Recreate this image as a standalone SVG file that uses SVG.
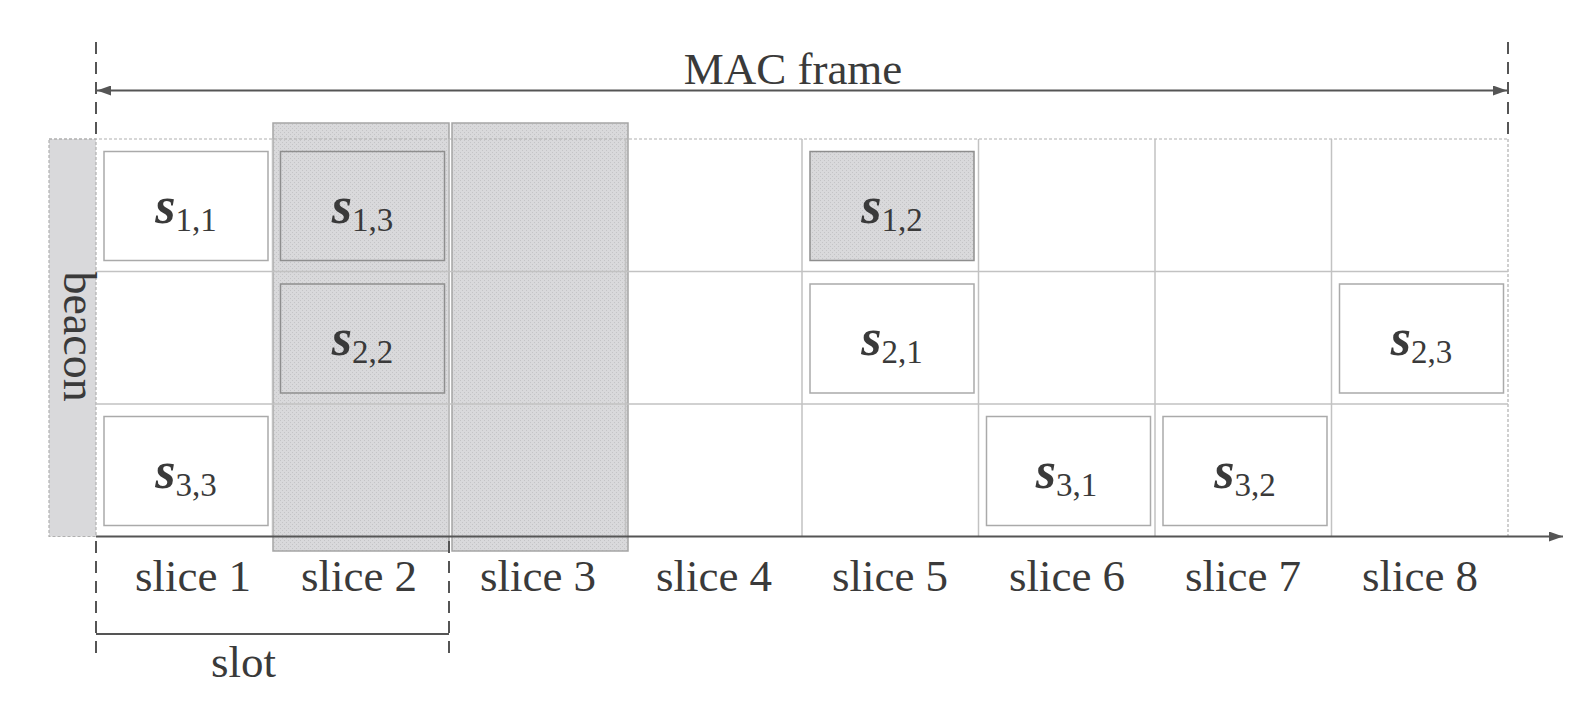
<svg xmlns="http://www.w3.org/2000/svg" width="1576" height="702" viewBox="0 0 1576 702">
<defs>
  <pattern id="stipple" width="4" height="4" patternUnits="userSpaceOnUse">
    <rect width="4" height="4" fill="#d9d9db"/>
    <rect x="0" y="0" width="1" height="1" fill="#c4c4c6"/>
    <rect x="2" y="2" width="1" height="1" fill="#c4c4c6"/>
  </pattern>
  <marker id="arr" viewBox="0 0 14 10" refX="14" refY="5" markerWidth="14" markerHeight="10" markerUnits="userSpaceOnUse" orient="auto-start-reverse">
    <path d="M0,0 L14,5 L0,10 Z" fill="#555"/>
  </marker>
  <style>
    .txt{font-family:"Liberation Serif","Times New Roman",serif;fill:#3a3a3a}
    .lbl{font-size:45px}
    .sv{font-size:52px;font-weight:bold;font-style:italic}
    .sub{font-size:33px}
    .grid{stroke:#c2c2c2;stroke-width:1.5;fill:none}
    .fine{stroke:#b0b0b0;stroke-width:1.2;stroke-dasharray:3 2;fill:none}
    .dash{stroke:#555;stroke-width:2;stroke-dasharray:12 8;fill:none}
    .box{fill:#fff;stroke:#aaa;stroke-width:1.5}
    .boxs{fill:url(#stipple);stroke:#8e8e8e;stroke-width:1.5}
    .shade{fill:url(#stipple);stroke:#a5a5a5;stroke-width:1.5}
  </style>
</defs>
<rect width="1576" height="702" fill="#fff"/>

<!-- beacon -->
<g id="beacon">
  <rect x="49" y="139" width="47" height="397.5" fill="#d9d9db" stroke="#b0b0b0" stroke-width="1.2" stroke-dasharray="3 2"/>
  <text class="txt" font-size="46" transform="translate(64,336.5) rotate(90)" text-anchor="middle">beacon</text>
</g>

<!-- shaded slot slices -->
<g id="shaded-slices">
  <rect class="shade" x="273" y="123" width="176" height="428"/>
  <rect class="shade" x="452" y="123" width="176" height="428"/>
</g>

<!-- grid -->
<g id="grid">
  <line class="fine" x1="49" y1="139" x2="1508" y2="139"/>
  <line class="fine" x1="1508" y1="139" x2="1508" y2="536.5"/>
  <line class="grid" x1="96" y1="271.5" x2="1508" y2="271.5"/>
  <line class="grid" x1="96" y1="404" x2="1508" y2="404"/>
  <line class="grid" x1="272.5" y1="139" x2="272.5" y2="536.5"/>
  <line class="grid" x1="449" y1="139" x2="449" y2="536.5" stroke="#999"/>
  <line class="grid" x1="625.5" y1="139" x2="625.5" y2="536.5"/>
  <line class="grid" x1="802" y1="139" x2="802" y2="536.5"/>
  <line class="grid" x1="978.5" y1="139" x2="978.5" y2="536.5"/>
  <line class="grid" x1="1155" y1="139" x2="1155" y2="536.5"/>
  <line class="grid" x1="1331.5" y1="139" x2="1331.5" y2="536.5"/>
</g>

<!-- nodes -->
<g id="s11"><rect class="box" x="104" y="151.5" width="164" height="109"/>
  <text class="txt" x="186" y="222.5" text-anchor="middle"><tspan class="sv">s</tspan><tspan class="sub" dy="8">1,1</tspan></text></g>
<g id="s13"><rect class="boxs" x="280.5" y="151.5" width="164" height="109"/>
  <text class="txt" x="362.5" y="222.5" text-anchor="middle"><tspan class="sv">s</tspan><tspan class="sub" dy="8">1,3</tspan></text></g>
<g id="s22"><rect class="boxs" x="280.5" y="284" width="164" height="109"/>
  <text class="txt" x="362.5" y="355" text-anchor="middle"><tspan class="sv">s</tspan><tspan class="sub" dy="8">2,2</tspan></text></g>
<g id="s33"><rect class="box" x="104" y="416.5" width="164" height="109"/>
  <text class="txt" x="186" y="487.5" text-anchor="middle"><tspan class="sv">s</tspan><tspan class="sub" dy="8">3,3</tspan></text></g>
<g id="s12"><rect class="boxs" x="810" y="151.5" width="164" height="109"/>
  <text class="txt" x="892" y="222.5" text-anchor="middle"><tspan class="sv">s</tspan><tspan class="sub" dy="8">1,2</tspan></text></g>
<g id="s21"><rect class="box" x="810" y="284" width="164" height="109"/>
  <text class="txt" x="892" y="355" text-anchor="middle"><tspan class="sv">s</tspan><tspan class="sub" dy="8">2,1</tspan></text></g>
<g id="s23"><rect class="box" x="1339.5" y="284" width="164" height="109"/>
  <text class="txt" x="1421.5" y="355" text-anchor="middle"><tspan class="sv">s</tspan><tspan class="sub" dy="8">2,3</tspan></text></g>
<g id="s31"><rect class="box" x="986.5" y="416.5" width="164" height="109"/>
  <text class="txt" x="1066.5" y="487.5" text-anchor="middle"><tspan class="sv">s</tspan><tspan class="sub" dy="8">3,1</tspan></text></g>
<g id="s32"><rect class="box" x="1163" y="416.5" width="164" height="109"/>
  <text class="txt" x="1245" y="487.5" text-anchor="middle"><tspan class="sv">s</tspan><tspan class="sub" dy="8">3,2</tspan></text></g>

<!-- connectors / axes -->
<g id="connectors">
  <line class="dash" x1="96" y1="42" x2="96" y2="139"/>
  <line class="dash" x1="1508" y1="42" x2="1508" y2="139"/>
  <line x1="97" y1="90.5" x2="1507" y2="90.5" stroke="#555" stroke-width="2" marker-start="url(#arr)" marker-end="url(#arr)"/>
  <line x1="96" y1="536.5" x2="1563" y2="536.5" stroke="#555" stroke-width="2" marker-end="url(#arr)"/>
  <line class="dash" x1="96" y1="541" x2="96" y2="658"/>
  <line class="dash" x1="449" y1="541" x2="449" y2="660"/>
  <line x1="96" y1="634" x2="449" y2="634" stroke="#555" stroke-width="2"/>
</g>

<!-- labels -->
<g id="labels" class="txt">
  <text x="793" y="83.5" font-size="45" text-anchor="middle">MAC frame</text>
  <text class="lbl" x="193" y="591" text-anchor="middle">slice 1</text>
  <text class="lbl" x="359" y="591" text-anchor="middle">slice 2</text>
  <text class="lbl" x="538" y="591" text-anchor="middle">slice 3</text>
  <text class="lbl" x="714" y="591" text-anchor="middle">slice 4</text>
  <text class="lbl" x="890" y="591" text-anchor="middle">slice 5</text>
  <text class="lbl" x="1067" y="591" text-anchor="middle">slice 6</text>
  <text class="lbl" x="1243" y="591" text-anchor="middle">slice 7</text>
  <text class="lbl" x="1420" y="591" text-anchor="middle">slice 8</text>
  <text class="lbl" x="243.5" y="677" text-anchor="middle">slot</text>
</g>
</svg>
